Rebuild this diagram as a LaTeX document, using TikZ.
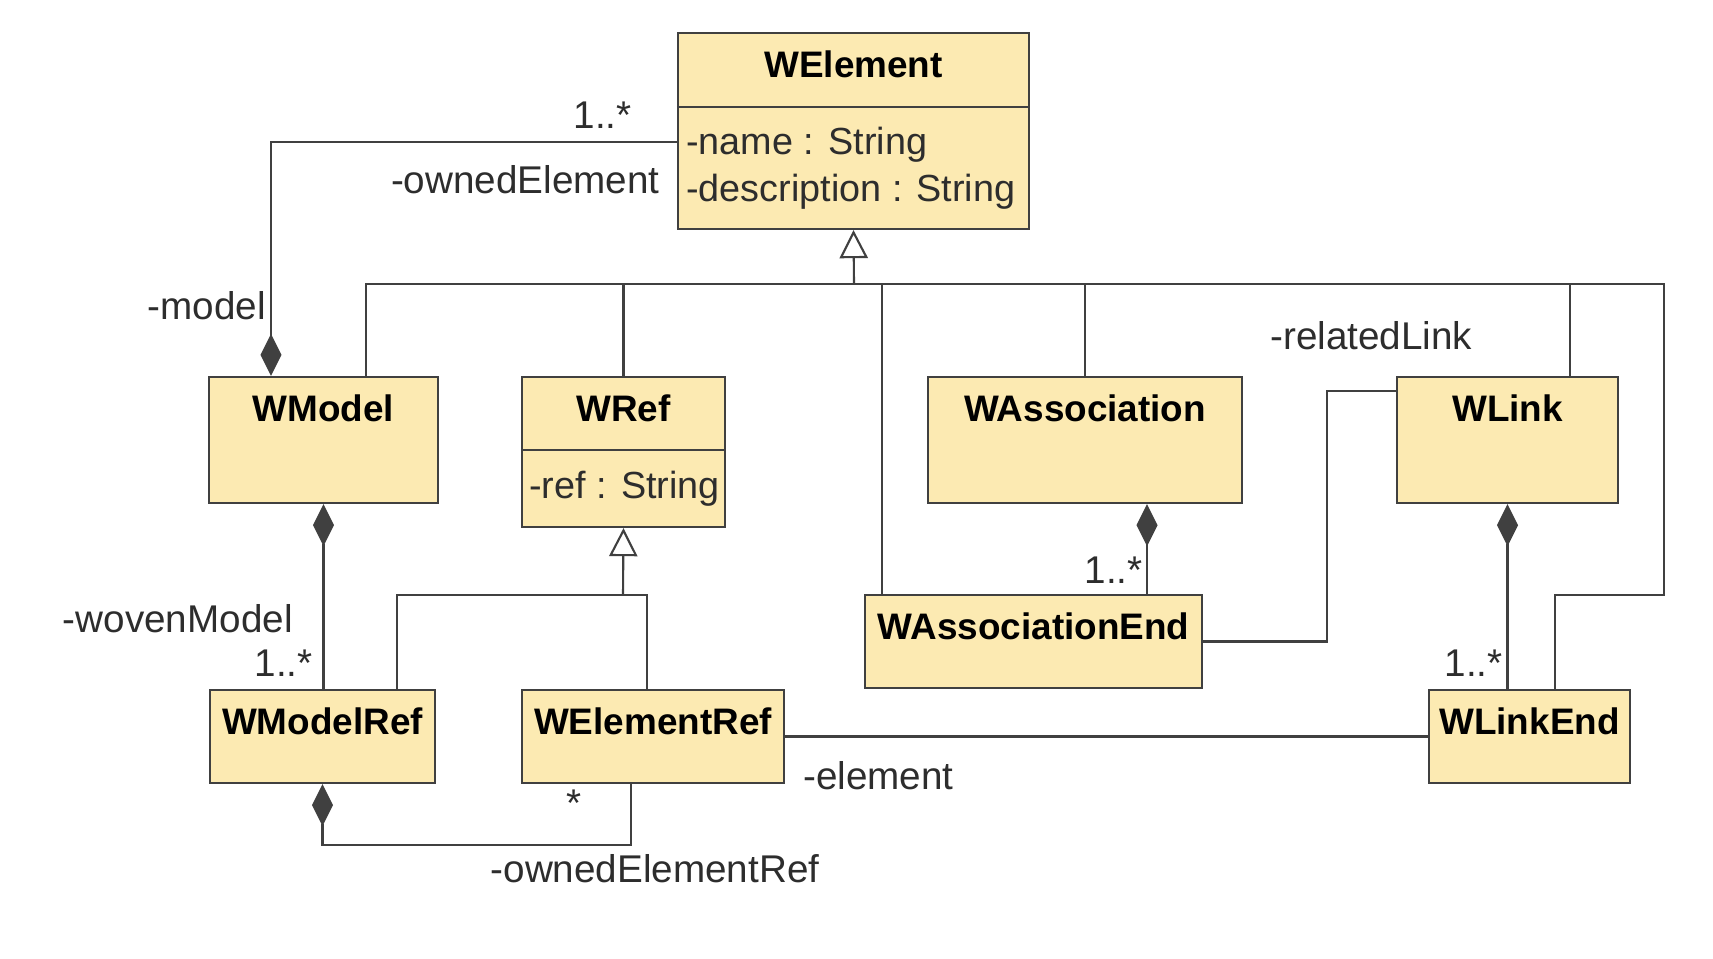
\documentclass[tikz,border=0pt]{standalone}
\usepackage{fontspec}
\setmainfont{Liberation Sans}
\usetikzlibrary{positioning,fit,arrows.meta}
\definecolor{classfill}{RGB}{252,234,178}
\definecolor{linegray}{RGB}{64,64,64}
\definecolor{labelgray}{RGB}{45,45,45}
\begin{document}
\begin{tikzpicture}
    [x=0.02cm,y=-0.02cm,
    cls/.style={draw=linegray,fill=classfill,line width=1.2pt,inner sep=0pt},
    title/.style={font=\fontsize{21}{26}\selectfont\bfseries,inner sep=0pt,text height=15pt,text depth=0pt},
    attr/.style={font=\fontsize{21.5}{26}\selectfont,inner sep=0pt,text height=16pt,text depth=0pt,anchor=north west,text=labelgray},
    role/.style={font=\fontsize{22}{26}\selectfont,inner sep=0pt,text=labelgray},
    line/.style={draw=linegray,line width=1.2pt},
    gen/.style={line,-{Triangle[length=16pt,width=16pt,fill=white]}},
    comp/.style={line,{Diamond[length=24pt,width=12pt]}-}]
    \useasboundingbox (0,0) rectangle (1713,959);
    %classes
    \node[cls,fit={(678,33)(1029,229)}] (welement) {};
    \node[title,below=10.6pt of welement.north] (welementname) {WElement};
    \draw[line] (welement.west |- 0,107) -- (welement.east |- 0,107);
    \node[attr] (welementattr) at (686,126) {-name : String};
    \node[attr,below=10.4pt of welementattr.south west,anchor=north west] (welementdesc) {-description : String};
    \node[cls,fit={(209,377)(438,503)}] (wmodel) {};
    \node[title,below=10.6pt of wmodel.north] (wmodelname) {WModel};
    \node[cls,fit={(522,377)(725,527)}] (wref) {};
    \node[title,below=10.6pt of wref.north] (wrefname) {WRef};
    \draw[line] (wref.west |- 0,450) -- (wref.east |- 0,450);
    \node[attr] (wrefattr) at (529,470) {-ref : String};
    \node[cls,fit={(928,377)(1242,503)}] (wassoc) {};
    \node[title,below=10.6pt of wassoc.north] (wassocname) {WAssociation};
    \node[cls,fit={(1397,377)(1618,503)}] (wlink) {};
    \node[title,below=10.6pt of wlink.north] (wlinkname) {WLink};
    \node[cls,fit={(865,595)(1202,688)}] (wassocend) {};
    \node[title,below=10.6pt of wassocend.north] (wassocendname) {WAssociationEnd};
    \node[cls,fit={(210,690)(435,783)}] (wmodelref) {};
    \node[title,below=10.6pt of wmodelref.north] (wmodelrefname) {WModelRef};
    \node[cls,fit={(522,690)(784,783)}] (welementref) {};
    \node[title,below=10.6pt of welementref.north] (welementrefname) {WElementRef};
    \node[cls,fit={(1429,690)(1630,783)}] (wlinkend) {};
    \node[title,below=10.6pt of wlinkend.north] (wlinkendname) {WLinkEnd};
    %generalization to WElement
    \coordinate (bus) at (854,284);
    \draw[gen] (bus) -- (welement.south);
    \draw[line] (wmodel.north -| 366,0) |- (bus);
    \draw[line] (wref.north) |- (bus);
    \draw[line] (wassocend.north -| 882,0) |- (bus);
    \draw[line] (wassoc.north) |- (bus);
    \draw[line] (wlink.north -| 1570,0) |- (bus);
    \draw[line] (wlinkend.north -| 1555,0) |- (1664,595) |- (bus);
    %generalization to WRef
    \coordinate (refbus) at (623,595);
    \draw[gen] (refbus) -- (wref.south);
    \draw[line] (wmodelref.north -| 397,0) |- (refbus);
    \draw[line] (welementref.north -| 647,0) |- (refbus);
    %associations
    \draw[comp] (wmodel.north -| 271,0) |- (welement.west |- 0,142);
    \draw[comp] (wmodel.south) -- (wmodel.south |- wmodelref.north);
    \coordinate (refcorner) at (631,845);
    \draw[comp] (wmodelref.south) |- (refcorner) -- (welementref.south -| refcorner);
    \draw[line] (welementref) -- (wlinkend);
    \draw[comp] (wassoc.south -| 1147,0) -- (wassocend.north -| 1147,0);
    \draw[comp] (wlink.south) -- (wlink.south |- wlinkend.north);
    \draw[line] (wassocend.east) -| (1327,391) -- (wlink.west |- 0,391);
    %role names and multiplicities
    \node[role,anchor=east] (ownedmult) at (632,115) {1..*};
    \node[role,anchor=east] (ownedrole) at (660,180) {-ownedElement};
    \node[role,anchor=east] (modelrole) at (266,306) {-model};
    \node[role,anchor=east] (wovenrole) at (293,619) {-wovenModel};
    \node[role,anchor=east] (wovenmult) at (313,663) {1..*};
    \node[role] (refmult) at (574,803) {*};
    \node[role] (refrole) at (655,869) {-ownedElementRef};
    \node[role,anchor=west] (elementrole) at (803,776) {-element};
    \node[role,anchor=east] (assocmult) at (1143,570) {1..*};
    \node[role,anchor=west] (relatedrole) at (1270,336) {-relatedLink};
    \node[role,anchor=east] (linkmult) at (1503,663) {1..*};
\end{tikzpicture}
\end{document}
